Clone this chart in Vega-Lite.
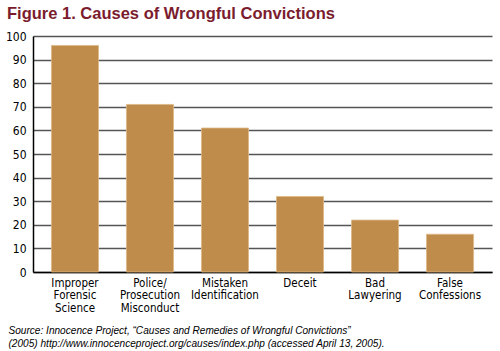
{
  "$schema": "https://vega.github.io/schema/vega-lite/v6.json",
  "width": 459,
  "height": 236,
  "autosize": {"type": "none"},
  "padding": {"left": 33, "top": 36, "right": 8, "bottom": 79},
  "background": "white",
  "title": {
    "text": "Figure 1. Causes of Wrongful Convictions",
    "anchor": "start",
    "frame": "group",
    "dx": -26,
    "offset": 8,
    "font": "Liberation Sans",
    "fontSize": 16.5,
    "fontWeight": "bold",
    "color": "#7b1c2e"
  },
  "data": {
    "values": [
      {"cause": "Improper|Forensic|Science", "value": 96},
      {"cause": "Police/|Prosecution|Misconduct", "value": 71},
      {"cause": "Mistaken|Identification", "value": 61},
      {"cause": "Deceit", "value": 32},
      {"cause": "Bad|Lawyering", "value": 22},
      {"cause": "False|Confessions", "value": 16}
    ]
  },
  "mark": {"type": "bar", "color": "#c08c4b", "stroke": "#dcb887", "strokeWidth": 0.8},
  "encoding": {
    "x": {
      "field": "cause",
      "type": "nominal",
      "sort": null,
      "scale": {"paddingInner": 0.373, "paddingOuter": 0.246},
      "axis": {
        "labelAngle": 0,
        "labelExpr": "split(datum.label, '|')",
        "labelFont": "DejaVu Sans Condensed, Liberation Sans, sans-serif",
        "labelFontSize": 11.5,
        "labelLineHeight": 12.7,
        "labelColor": "#000",
        "labelPadding": 5,
        "ticks": false,
        "domainColor": "#000",
        "domainWidth": 1.5,
        "title": ["Source: Innocence Project, \u201cCauses and Remedies of Wrongful Convictions\u201d", "(2005) http://www.innocenceproject.org/causes/index.php (accessed April 13, 2005)."],
        "titleAnchor": "start",
        "titleAlign": "left",
        "titleBaseline": "top",
        "titleX": -25,
        "titleY": 53,
        "titleFont": "Liberation Sans",
        "titleFontSize": 10.1,
        "titleFontStyle": "italic",
        "titleFontWeight": "normal",
        "titleLineHeight": 13.5,
        "titleColor": "#000"
      }
    },
    "y": {
      "field": "value",
      "type": "quantitative",
      "scale": {"domain": [0, 100], "nice": false},
      "axis": {
        "values": [0, 10, 20, 30, 40, 50, 60, 70, 80, 90, 100],
        "title": null,
        "ticks": false,
        "labelPadding": 7,
        "labelFont": "DejaVu Sans Condensed, Liberation Sans, sans-serif",
        "labelFontSize": 12,
        "labelColor": "#000",
        "domainColor": "#000",
        "domainWidth": 1.5,
        "grid": true,
        "gridColor": "#555",
        "gridWidth": 1.5
      }
    }
  },
  "config": {"view": {"stroke": null}}
}
